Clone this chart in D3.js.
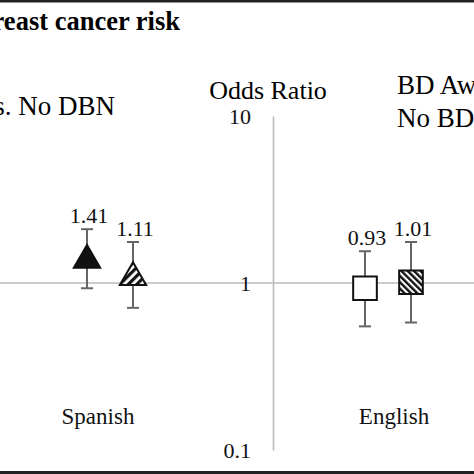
<!DOCTYPE html>
<html>
<head>
<meta charset="utf-8">
<script src="https://cdn.jsdelivr.net/npm/d3@7"></script>
<style>
  body { margin: 0; background: #fff; }
  svg { display: block; font-family: "Liberation Serif", "Times New Roman", serif; }
</style>
</head>
<body>
<div id="chart"></div>
<script>
// values
const groups = ["Spanish", "English"];
const pointGroup = ["Spanish", "Spanish", "English", "English"];
const pointSlot = [0, 1, 0, 1];
const oddsRatio = [1.41, 1.11, 0.93, 1.01];
const lowerCI = [0.93, 0.71, 0.55, 0.58];
const upperCI = [2.10, 1.76, 1.55, 1.76];
const yTicks = [0.1, 1, 10];

const width = 474, height = 474;

// marker look per point
const markerKind = ["triFill", "triHatch", "sqOpen", "sqHatch"];

const svg = d3.select("#chart").append("svg")
    .attr("width", width)
    .attr("height", height);

const defs = svg.append("defs");
defs.append("pattern")
    .attr("id", "hatchUp")
    .attr("patternUnits", "userSpaceOnUse")
    .attr("width", 6).attr("height", 6)
    .attr("patternTransform", "rotate(45)")
    .append("rect")
    .attr("width", 3.2).attr("height", 6)
    .attr("fill", "#111");
defs.append("pattern")
    .attr("id", "hatchDown")
    .attr("patternUnits", "userSpaceOnUse")
    .attr("width", 4.5).attr("height", 4.5)
    .attr("patternTransform", "rotate(-45)")
    .append("rect")
    .attr("width", 2.4).attr("height", 4.5)
    .attr("fill", "#111");

const x = d3.scalePoint().domain(groups).range([110, 388]);
const xSlot = d3.scalePoint().domain([0, 1]).range([-23, 23]);
const y = d3.scaleLog().domain([0.1, 10]).range([450, 116]);

const points = oddsRatio.map((v, i) => ({
    group: pointGroup[i],
    slot: pointSlot[i],
    v, lo: lowerCI[i], hi: upperCI[i],
    kind: markerKind[i],
    cx: x(pointGroup[i]) + xSlot(pointSlot[i])
}));

// frame lines top / bottom
svg.append("rect").attr("x", 0).attr("y", 0).attr("width", width).attr("height", 2.5).attr("fill", "#222");
svg.append("rect").attr("x", 0).attr("y", 471).attr("width", width).attr("height", 3).attr("fill", "#222");

// title (cut at the left edge)
svg.append("text")
    .attr("x", 180).attr("y", 30)
    .attr("text-anchor", "end")
    .attr("font-size", 26.5).attr("font-weight", "bold")
    .text("Breast cancer risk");

// panel headings
svg.append("text")
    .attr("x", 115).attr("y", 115)
    .attr("text-anchor", "end")
    .attr("font-size", 27)
    .text("DBN vs. No DBN");

const head2 = svg.append("text")
    .attr("x", 397)
    .attr("font-size", 27);
head2.append("tspan").attr("x", 397).attr("y", 94).text("BD Aware vs.");
head2.append("tspan").attr("x", 397).attr("y", 127).text("No BD Aware");

svg.append("text")
    .attr("x", 268).attr("y", 99)
    .attr("text-anchor", "middle")
    .attr("font-size", 26)
    .text("Odds Ratio");

// reference line at OR = 1
svg.append("line")
    .attr("x1", 0).attr("x2", width)
    .attr("y1", y(1)).attr("y2", y(1))
    .attr("stroke", "#bbb").attr("stroke-width", 1.6);

// y axis
const axis = svg.append("g")
    .attr("transform", "translate(273,0)")
    .call(d3.axisLeft(y).tickValues(yTicks).tickSize(0).tickPadding(22)
        .tickFormat(d3.format("~g")));
axis.select(".domain").attr("stroke", "#bbb").attr("stroke-width", 1.6);
axis.selectAll("text")
    .attr("font-family", "Liberation Serif, serif")
    .attr("font-size", 22)
    .attr("fill", "#111");

// error bars
const eb = svg.append("g").attr("stroke", "#666").attr("stroke-width", 2);
eb.selectAll(".whisker").data(points).join("line")
    .attr("class", "whisker")
    .attr("x1", d => d.cx).attr("x2", d => d.cx)
    .attr("y1", d => y(d.hi)).attr("y2", d => y(d.lo));
eb.selectAll(".capHi").data(points).join("line")
    .attr("class", "capHi")
    .attr("x1", d => d.cx - 6).attr("x2", d => d.cx + 6)
    .attr("y1", d => y(d.hi)).attr("y2", d => y(d.hi));
eb.selectAll(".capLo").data(points).join("line")
    .attr("class", "capLo")
    .attr("x1", d => d.cx - 6).attr("x2", d => d.cx + 6)
    .attr("y1", d => y(d.lo)).attr("y2", d => y(d.lo));

// markers
const fillFor = k => k === "triFill" ? "#111" : k === "sqOpen" ? "#fff" : (k === "triHatch" ? "url(#hatchUp)" : "url(#hatchDown)");
const tri = d3.symbol().type(d3.symbolTriangle).size(300);
const sq = d3.symbol().type(d3.symbolSquare).size(560);

svg.append("g").selectAll("path.bg").data(points).join("path")
    .attr("class", "bg")
    .attr("transform", d => `translate(${d.cx},${y(d.v) + (d.kind.startsWith("tri") ? 2 : 0)})`)
    .attr("d", d => d.kind.startsWith("tri") ? tri() : sq())
    .attr("fill", "#fff");
svg.append("g").selectAll("path.mk").data(points).join("path")
    .attr("class", "mk")
    .attr("transform", d => `translate(${d.cx},${y(d.v) + (d.kind.startsWith("tri") ? 2 : 0)})`)
    .attr("d", d => d.kind.startsWith("tri") ? tri() : sq())
    .attr("fill", d => fillFor(d.kind))
    .attr("stroke", "#111")
    .attr("stroke-width", 2)
    .attr("stroke-linejoin", "miter");

// value labels
svg.append("g").selectAll("text").data(points).join("text")
    .attr("x", d => d.cx + 2)
    .attr("y", d => y(d.hi) - 6)
    .attr("text-anchor", "middle")
    .attr("font-size", 22)
    .attr("fill", "#111")
    .text(d => d3.format(".2f")(d.v));

// group labels
svg.append("g").selectAll("text").data(groups).join("text")
    .attr("x", d => x(d) + (d === "Spanish" ? -12 : 6))
    .attr("y", 424)
    .attr("text-anchor", "middle")
    .attr("font-size", 23)
    .attr("fill", "#111")
    .text(d => d);
</script>
</body>
</html>
